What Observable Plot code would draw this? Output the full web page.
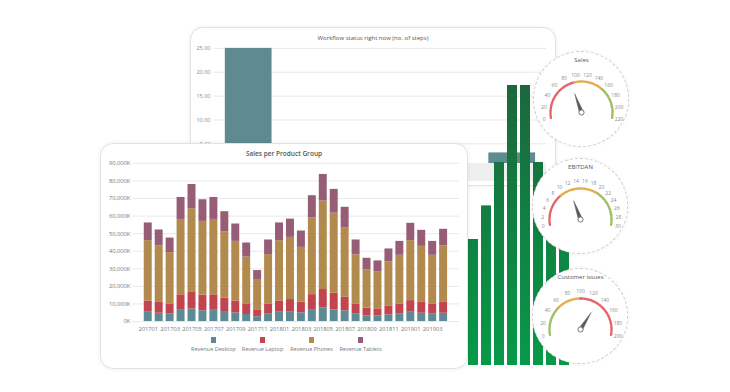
<!DOCTYPE html>
<html><head><meta charset="utf-8">
<script src="https://cdn.jsdelivr.net/npm/d3@7"></script>
<script src="https://cdn.jsdelivr.net/npm/@observablehq/plot@0.6"></script>
<style>
html,body{margin:0;padding:0;background:#fff;}
#stage{position:relative;width:730px;height:392px;overflow:hidden;font-family:"Open Sans",sans-serif;}
.card{position:absolute;background:#fff;border:1px solid #e2e2e2;border-radius:13px;box-shadow:0 0 5px rgba(0,0,0,0.07);box-sizing:border-box;overflow:hidden;}
.gauge{position:absolute;width:96px;height:96px;border-radius:50%;background:#fff;border:1px dashed #cdcdcd;box-sizing:border-box;box-shadow:0 0 4px rgba(0,0,0,0.06);}
.abs{position:absolute;}
.ctitle{position:absolute;left:0;width:100%;text-align:center;color:#555;}
.leg{position:absolute;top:193px;left:88px;width:196px;display:flex;}
.leg > div{width:49px;text-align:center;font-size:5.5px;line-height:8px;color:#777;}
.sw{width:5.5px;height:5.5px;margin:0 auto 2px;}
</style></head><body><div id="stage"></div>
<script>
// ---------- Sales per Product Group (values in K) ----------
const months = ["201701","201702","201703","201704","201705","201706","201707","201708","201709","201710","201711","201712",
  "201801","201802","201803","201804","201805","201806","201807","201808","201809","201810","201811","201812",
  "201901","201902","201903","201904"];
const seriesNames = ["Revenue Desktop","Revenue Laptop","Revenue Phones","Revenue Tablets"];
const seriesColors = ["#5c8b95","#c1444f","#b28a4d","#975c76"];
const desktop = [5300,4700,4200,6400,7200,6100,6400,5700,4900,4000,2700,4200,5300,5300,4900,6400,7800,6600,6100,4200,3200,3200,3800,4200,5300,4700,4200,4700];
const laptop  = [6400,6500,5800,8800,9700,8900,8800,7700,6800,5700,3600,5800,6400,7200,6100,8900,10400,9500,7900,5800,4400,4000,5100,5800,6600,6500,5800,6500];
const phones  = [34300,31800,29200,42900,47300,42000,42900,37700,33900,27000,17600,28100,34300,35400,31200,43600,50400,45600,39200,27900,21900,21200,25000,27700,34100,31600,27700,31800];
const tablets = [10100,9100,8300,12500,13800,12300,12500,11400,9900,8000,5100,8300,10100,10400,9300,12700,15100,13500,11800,8500,6500,6100,7400,7900,9900,9100,7900,9500];
const salesTicks = [0,10000,20000,30000,40000,50000,60000,70000,80000,90000];

// ---------- Workflow status ----------
const wfSteps = ["Step 1","Step 2","Step 3","Step 4","Step 5","Step 6"];
const wfValues = [25,0,0,0,0,3.1];
const wfTicks = [0,5,10,15,20,25];

// ---------- Green decorative bars ----------
const greenBars = ["g1","g2","g3","g4","g5","g6","g7","g8"];
const greenValues = [4.5,5.7,7.25,10,10,7.25,5.7,4.5];

// ---------- Gauges ----------
const gaugeNames = ["Sales","EBITDAN","Customer issues"];
const gaugeMax = [220,30,200];
const gaugeTickStep = [20,2,20];
const gaugeValues = [88,12,132];
const gaugeBandStops = [[0,95,155,220],[0,9,20,30],[0,55,100,200]];
const gaugeBandColors = [["#e5646c","#e6ad4c","#9dbf60"],["#e5646c","#e6ad4c","#9dbf60"],["#9dbf60","#e6ad4c","#e5646c"]];

const stage = document.getElementById("stage");
function place(el, left, top){ el.style.position="absolute"; el.style.left=left+"px"; el.style.top=top+"px"; return el; }
function div(cls, left, top, w, h){ const d=document.createElement("div"); d.className=cls; d.style.left=left+"px"; d.style.top=top+"px"; if(w!=null) d.style.width=w+"px"; if(h!=null) d.style.height=h+"px"; return d; }

// ===== Workflow card =====
const wfCard = div("card",190,27,366,159);
stage.appendChild(wfCard);
const wfTitle = document.createElement("div");
wfTitle.className="ctitle"; wfTitle.style.top="6px"; wfTitle.style.fontSize="6px"; wfTitle.style.lineHeight="8px";
wfTitle.textContent="Workflow status right now (no. of steps)";
wfCard.appendChild(wfTitle);
const wfData = wfSteps.map((s,i)=>({step:s, value:wfValues[i]}));
const wfPlot = Plot.plot({
  width:366, height:159, marginTop:21, marginBottom:18, marginLeft:24, marginRight:8,
  style:{fontFamily:"Open Sans", fontSize:"5.5px", color:"#888", background:"transparent"},
  x:{type:"band", domain:wfSteps, paddingInner:0.12, paddingOuter:0.19, axis:null},
  y:{domain:[0,25], ticks:wfTicks, tickFormat:d3.format(".2f"), tickSize:0, tickPadding:4, label:null},
  marks:[
    Plot.ruleY(wfTicks,{stroke:"#e8e8e8"}),
    Plot.barY(wfData,{x:"step", y:"value", fill:"#5e8a90"})
  ]
});
wfCard.appendChild(place(wfPlot,-1,-1));
// light strip behind green bars
const strip = div("abs",468,163,78,18); strip.style.background="#efefef"; stage.appendChild(strip);

// ===== Green bars =====
const gData = greenBars.map((g,i)=>({g, v:greenValues[i]}));
const gPlot = Plot.plot({
  width:120, height:290, marginTop:5, marginBottom:5, marginLeft:5, marginRight:8,
  style:{background:"transparent"},
  x:{type:"band", domain:greenBars, padding:0.23, axis:null},
  y:{domain:[0,10], axis:null},
  marks:[ Plot.barY(gData,{x:"g", y:"v", fill:"url(#gGrad)"}) ]
});
(function(){
  const NS="http://www.w3.org/2000/svg";
  const defs=document.createElementNS(NS,"defs");
  const lg=document.createElementNS(NS,"linearGradient");
  lg.setAttribute("id","gGrad"); lg.setAttribute("gradientUnits","userSpaceOnUse");
  lg.setAttribute("x1","0"); lg.setAttribute("y1","5"); lg.setAttribute("x2","0"); lg.setAttribute("y2","285");
  [["0","#1c673c"],["1","#069a48"]].forEach(([o,c])=>{const s=document.createElementNS(NS,"stop");s.setAttribute("offset",o);s.setAttribute("stop-color",c);lg.appendChild(s);});
  defs.appendChild(lg); gPlot.insertBefore(defs,gPlot.firstChild);
})();
stage.appendChild(place(gPlot,460,80));

// ===== Sales card =====
const sCard = div("card",100,143,368,226);
stage.appendChild(sCard);
const sTitle = document.createElement("div");
sTitle.className="ctitle"; sTitle.style.top="5px"; sTitle.style.fontSize="6.5px"; sTitle.style.lineHeight="10px"; sTitle.style.fontWeight="600";
sTitle.textContent="Sales per Product Group";
sCard.appendChild(sTitle);
const seriesValues=[desktop,laptop,phones,tablets];
const rows=[];
months.forEach((m,i)=>seriesNames.forEach((s,j)=>rows.push({month:m, series:s, value:seriesValues[j][i]})));
const sPlot = Plot.plot({
  width:368, height:196, marginTop:20, marginBottom:17, marginLeft:32, marginRight:7,
  style:{fontFamily:"Open Sans", fontSize:"5.8px", color:"#777", background:"transparent"},
  x:{type:"band", domain:months, padding:0.23, label:null, tickSize:0, tickPadding:5,
     tickFormat:d=>months.indexOf(d)%2===0?d:""},
  y:{domain:[0,90000], ticks:salesTicks, tickFormat:d=>d3.format(",")(d)+"K", tickSize:0, tickPadding:2, label:null},
  color:{domain:seriesNames, range:seriesColors},
  marks:[
    Plot.ruleY(salesTicks,{stroke:"#e9e9e9"}),
    Plot.barY(rows,{x:"month", y:"value", fill:"series"})
  ]
});
sCard.appendChild(place(sPlot,-1,-1));
const leg=document.createElement("div"); leg.className="leg";
seriesNames.forEach((s,j)=>{const it=document.createElement("div"); const sw=document.createElement("div"); sw.className="sw"; sw.style.background=seriesColors[j]; it.appendChild(sw); it.appendChild(document.createTextNode(s)); leg.appendChild(it);});
sCard.appendChild(leg);

// ===== Gauges =====
const gaugePos=[[581,99],[580,206],[580,316]];
gaugeNames.forEach((name,i)=>{
  const [cx,cy]=gaugePos[i];
  stage.appendChild(div("gauge",cx-48,cy-48));
  const max=gaugeMax[i], R=31, LR=38, NL=20, PY=13;
  const ang=v=>(-100+200*v/max)*Math.PI/180;
  const stops=gaugeBandStops[i];
  const marks=[];
  for(let b=0;b<stops.length-1;b++){
    const pts=d3.range(0,41).map(k=>{const v=stops[b]+(stops[b+1]-stops[b])*k/40; return {x:R*Math.sin(ang(v)), y:PY-R*Math.cos(ang(v))};});
    marks.push(Plot.line(pts,{x:"x",y:"y",stroke:gaugeBandColors[i][b],strokeWidth:2.4,strokeDasharray:"4.5,1.2"}));
  }
  const labels=d3.range(0,max+gaugeTickStep[i]/2,gaugeTickStep[i]).map(v=>({x:LR*Math.sin(ang(v)), y:PY-LR*Math.cos(ang(v)), t:String(v)}));
  marks.push(Plot.text(labels,{x:"x",y:"y",text:"t",fontSize:5,fill:"#8a8a8a"}));
  const a=ang(gaugeValues[i]);
  const needle=[{x:2*Math.cos(a),y:PY+2*Math.sin(a)},{x:NL*Math.sin(a),y:PY-NL*Math.cos(a)},{x:-2*Math.cos(a),y:PY-2*Math.sin(a)}];
  marks.push(Plot.line(needle,{x:"x",y:"y",fill:"#5a5a5a",stroke:"#5a5a5a",strokeWidth:0.5,curve:"linear-closed"}));
  marks.push(Plot.dot([{x:0,y:PY}],{x:"x",y:"y",r:2.6,fill:"white",stroke:"#777",strokeWidth:1}));
  marks.push(Plot.text([{x:0,y:-39,t:name}],{x:"x",y:"y",text:"t",fontSize:6,fill:"#555"}));
  const gp=Plot.plot({width:100,height:100,margin:0,
    style:{fontFamily:"Open Sans",background:"transparent",overflow:"visible"},
    x:{domain:[-50,50],axis:null}, y:{domain:[50,-50],axis:null}, marks});
  stage.appendChild(place(gp,cx-50,cy-50));
});
</script></body></html>
